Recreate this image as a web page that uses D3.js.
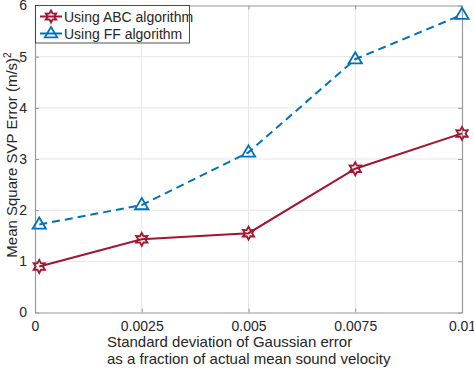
<!doctype html>
<html>
<head>
<meta charset="utf-8">
<script src="https://d3js.org/d3.v7.min.js"></script>
<style>
  body { margin: 0; background: #fff; }
  text { font-family: "Liberation Sans", Arial, sans-serif; fill: #262626; }
</style>
</head>
<body>
<svg id="chart" width="474" height="370"></svg>
<script>
var xVals = [0.0001, 0.0025, 0.005, 0.0075, 0.01];
var abcVals = [0.9, 1.43, 1.55, 2.81, 3.5];
var ffVals = [1.72, 2.1, 3.13, 4.95, 5.82];
var xTicks = [0, 0.0025, 0.005, 0.0075, 0.01];
var xTickLabels = ['0', '0.0025', '0.005', '0.0075', '0.01'];
var yTicks = [0, 1, 2, 3, 4, 5, 6];
var seriesNames = ['Using ABC algorithm', 'Using FF algorithm'];

var L = 35, R = 462, T = 5.5, B = 312.5;
var svg = d3.select('#chart');
var x = d3.scaleLinear().domain([0, 0.01]).range([L, R]);
var y = d3.scaleLinear().domain([0, 6]).range([B, T]);

// grid
svg.append('g').selectAll('line').data(xTicks.slice(1, -1)).enter().append('line')
  .attr('x1', d => x(d)).attr('x2', d => x(d)).attr('y1', T).attr('y2', B)
  .attr('stroke', '#e6e6e6').attr('stroke-width', 1);
svg.append('g').selectAll('line').data(yTicks.slice(1, -1)).enter().append('line')
  .attr('y1', d => y(d)).attr('y2', d => y(d)).attr('x1', L).attr('x2', R)
  .attr('stroke', '#e6e6e6').attr('stroke-width', 1);

// axes (ticks inward)
var axB = svg.append('g').attr('transform', 'translate(0,' + B + ')')
  .call(d3.axisBottom(x).tickValues(xTicks).tickFormat((d, i) => xTickLabels[i]).tickSizeInner(-4).tickSizeOuter(0).tickPadding(9));
var axT = svg.append('g').attr('transform', 'translate(0,' + T + ')')
  .call(d3.axisTop(x).tickValues(xTicks).tickFormat('').tickSizeInner(-4).tickSizeOuter(0));
var axL = svg.append('g').attr('transform', 'translate(' + L + ',0)')
  .call(d3.axisLeft(y).tickValues(yTicks).tickFormat(d3.format('d')).tickSizeInner(-4).tickSizeOuter(0).tickPadding(8));
var axR = svg.append('g').attr('transform', 'translate(' + R + ',0)')
  .call(d3.axisRight(y).tickValues(yTicks).tickFormat('').tickSizeInner(-4).tickSizeOuter(0));
[axB, axT, axL, axR].forEach(function (g) {
  g.selectAll('path').attr('stroke', '#999').attr('stroke-width', 1.2);
  g.selectAll('line').attr('stroke', '#999');
  g.selectAll('text').style('font-size', '14px').attr('fill', '#262626')
    .style('font-family', '"Liberation Sans", Arial, sans-serif');
});

// markers
function hexagram(r) {
  var pts = [];
  for (var k = 0; k < 12; k++) {
    var a = -Math.PI / 2 + k * Math.PI / 6;
    var rr = k % 2 === 0 ? r : r * 0.55;
    pts.push([rr * Math.cos(a), rr * Math.sin(a)]);
  }
  return 'M' + pts.map(p => p[0].toFixed(2) + ',' + p[1].toFixed(2)).join('L') + 'Z';
}
function triangle(r) {
  return 'M0,' + (-r) + 'L' + (r * 0.95) + ',' + (r * 0.6) + 'L' + (-r * 0.95) + ',' + (r * 0.6) + 'Z';
}

var line = d3.line().x(d => x(d[0])).y(d => y(d[1]));
var ffData = xVals.map((v, i) => [v, ffVals[i]]);
var abcData = xVals.map((v, i) => [v, abcVals[i]]);

svg.append('path').datum(ffData).attr('d', line).attr('fill', 'none')
  .attr('stroke', '#0072BD').attr('stroke-width', 2).attr('stroke-dasharray', '8,5');
svg.append('g').selectAll('path').data(ffData).enter().append('path')
  .attr('transform', d => 'translate(' + x(d[0]) + ',' + y(d[1]) + ')')
  .attr('d', triangle(7)).attr('fill', 'none').attr('stroke', '#0072BD').attr('stroke-width', 1.8);

svg.append('path').datum(abcData).attr('d', line).attr('fill', 'none')
  .attr('stroke', '#A2142F').attr('stroke-width', 2);
svg.append('g').selectAll('path').data(abcData).enter().append('path')
  .attr('transform', d => 'translate(' + x(d[0]) + ',' + y(d[1]) + ')')
  .attr('d', hexagram(6.5)).attr('fill', 'none').attr('stroke', '#A2142F').attr('stroke-width', 1.8);

// legend
var lg = svg.append('g');
lg.append('rect').attr('x', L + 0.5).attr('y', T).attr('width', 154).attr('height', 37.5)
  .attr('fill', '#fff').attr('stroke', '#262626').attr('stroke-width', 0.8);
var lgColors = ['#A2142F', '#0072BD'];
var lgShapes = [hexagram(6), triangle(6.5)];
seriesNames.forEach(function (name, i) {
  var cy = T + 11 + i * 17;
  lg.append('line').attr('x1', L + 5).attr('x2', L + 27).attr('y1', cy).attr('y2', cy)
    .attr('stroke', lgColors[i]).attr('stroke-width', 2);
  lg.append('path').attr('transform', 'translate(' + (L + 16) + ',' + cy + ')')
    .attr('d', lgShapes[i]).attr('fill', 'none').attr('stroke', lgColors[i]).attr('stroke-width', 1.8);
  lg.append('text').attr('x', L + 29).attr('y', cy + 5).style('font-size', '14px').text(name);
});

// axis labels
svg.append('text').attr('x', 107).attr('y', 347)
  .style('font-size', '15px').text('Standard deviation of Gaussian error');
svg.append('text').attr('x', 107).attr('y', 364)
  .style('font-size', '15px').text('as a fraction of actual mean sound velocity');
var yl = svg.append('text').attr('transform', 'translate(17,' + ((T + B) / 2 - 4) + ') rotate(-90)')
  .attr('text-anchor', 'middle').style('font-size', '15px');
yl.append('tspan').text('Mean Square SVP Error (m/s)');
yl.append('tspan').attr('dy', -6).style('font-size', '10px').text('2');
</script>
</body>
</html>
